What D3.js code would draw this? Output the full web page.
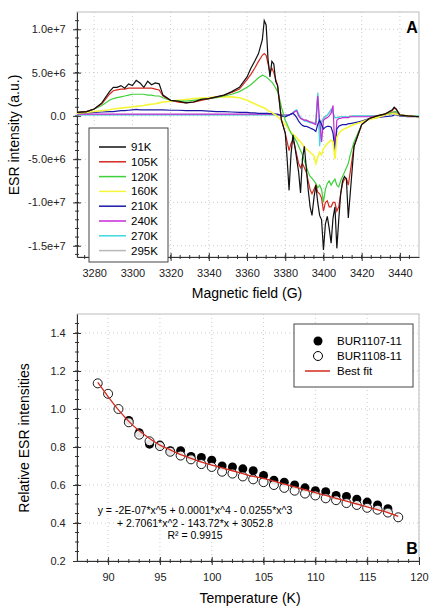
<!DOCTYPE html>
<html>
<head>
<meta charset="utf-8">
<script src="https://cdn.jsdelivr.net/npm/d3@7"></script>
<style>
body { margin: 0; background: #fff; font-family: "Liberation Sans", Arial, sans-serif; }
svg text { font-family: "Liberation Sans", Arial, sans-serif; }
.grid line { stroke: #ccc; stroke-dasharray: 1,3; }
.axis text { font-size: 11px; fill: #222; }
.axis path, .axis line { stroke: #333; }
</style>
</head>
<body>
<div id="chart"></div>
<script>
// panel A: ESR spectra, values in units of 1e6
const fields = [3271,3276,3280,3284,3288, 3290,3292,3294,3296,3298, 3300,3302,3304,3306,3308,
  3310,3312,3314,3316,3320, 3324,3328,3332,3336,3340, 3344,3348,3352,3356,3360,
  3362,3364,3366,3368,3369, 3370,3371,3372,3373,3374, 3375,3376,3377,3378,3380,
  3381,3382,3383,3384,3385, 3386,3387,3388,3389,3390, 3391,3392,3393,3394,3395,
  3396,3397,3398,3399,3400, 3401,3402,3403,3404,3405, 3406,3407,3408,3409,3410,
  3411,3412,3413,3414,3416, 3420,3424,3428,3432,3436, 3437,3438,3440,3444,3450];

const k91 = [0.4,0.5,0.8,1.5,2.8, 3.3,3.3,3.5,3.2,3.7, 3.5,4.1,3.8,3.3,4.0, 3.6,3.8,3.7,2.4,1.8,
  1.7,1.5,1.6,1.9,2.0, 2.2,2.4,2.8,3.3,4.5, 5.5,6.3,7.2,8.8,11.0, 10.5,6.5,4.5,6.3,6.0,
  4.0,3.5,1.5,-0.5,-2.0, -5.0,-8.6,-4.5,-2.2,-3.5, -5.0,-6.5,-8.9,-5.0,-3.5, -6.0,-8.5,-10.5,-11.5,-9.5,
  -8.0,-10.0,-11.5,-12.0,-15.5, -12.5,-11.6,-13.0,-14.7,-11.8, -10.5,-15.3,-12.0,-9.0,-7.5,
  -7.0,-7.3,-11.8,-9.0,-3.5, -1.0,-0.3,0.0,0.2,0.7, 1.0,0.8,0.1,0.0,-0.1];
const k105 = [0.4,0.5,0.8,1.4,2.5, 2.9,3.0,3.1,3.1,3.2, 3.2,3.2,3.2,3.2,3.2, 3.2,3.1,3.0,2.3,1.8,
  1.6,1.5,1.6,1.8,2.0, 2.2,2.4,2.7,3.1,4.2, 4.8,5.5,6.3,7.0,7.2, 7.0,6.0,5.0,5.5,5.0,
  4.2,3.5,1.5,-0.5,-2.0, -3.0,-4.0,-3.2,-2.8,-3.5, -4.5,-5.5,-6.0,-5.5,-6.0, -6.5,-7.5,-8.5,-9.0,-8.5,
  -8.0,-8.8,-9.0,-9.5,-11.0, -10.0,-9.8,-10.5,-10.5,-10.0, -10.0,-11.0,-10.5,-9.0,-7.8,
  -7.3,-7.2,-8.0,-6.5,-3.5, -1.0,-0.3,0.0,0.2,0.6, 0.9,0.8,0.1,0.0,-0.1];
const k120 = [0.4,0.5,0.8,1.2,1.8, 2.0,2.1,2.2,2.3,2.4, 2.5,2.5,2.5,2.5,2.4, 2.4,2.3,2.3,2.1,1.8,
  1.7,1.7,1.8,1.9,2.0, 2.1,2.3,2.5,2.8,3.3, 3.6,4.0,4.4,4.7,4.6, 4.5,4.3,4.1,3.9,3.6,
  3.2,2.8,2.0,1.0,-0.5, -1.0,-1.5,-2.0,-2.3,-2.6, -3.0,-3.5,-4.0,-4.5,-5.2, -5.8,-6.5,-7.0,-7.2,-7.5,
  -7.8,-8.3,-8.0,-8.5,-10.0, -8.5,-7.8,-7.5,-8.0,-7.6, -7.3,-8.0,-8.2,-7.5,-7.0,
  -6.5,-6.0,-5.5,-4.5,-3.0, -1.0,-0.3,0.0,0.2,0.4, 0.5,0.5,0.1,0.0,-0.1];
const k160 = [0.3,0.4,0.5,0.6,0.7, 0.8,0.85,0.9,0.95,1.0, 1.05,1.1,1.15,1.2,1.3, 1.35,1.4,1.5,1.6,1.7,
  1.8,1.9,2.0,2.05,2.1, 2.2,2.2,2.2,2.1,1.8, 1.6,1.4,1.2,1.0,0.9, 0.8,0.6,0.5,0.4,0.2,
  0.1,-0.1,-0.3,-0.5,-1.0, -1.3,-1.6,-1.9,-2.1,-2.3, -2.5,-2.8,-3.0,-3.3,-3.6, -3.8,-4.0,-4.2,-4.4,-4.6,
  -5.5,-4.8,-4.2,-4.5,-3.8, -3.5,-3.2,-3.0,-2.8,-3.0, -5.0,-2.5,-2.0,-1.8,-1.6,
  -1.5,-1.4,-1.3,-1.2,-1.0, -0.7,-0.4,-0.2,0.1,0.3, 0.3,0.2,0.1,0.0,-0.1];
const k210 = [0.3,0.35,0.4,0.45,0.5, 0.5,0.55,0.6,0.6,0.65, 0.7,0.75,0.7,0.7,0.7, 0.7,0.7,0.7,0.7,0.65,
  0.65,0.6,0.6,0.6,0.55, 0.5,0.5,0.45,0.4,0.4, 0.35,0.35,0.3,0.3,0.3, 0.3,0.3,0.25,0.25,0.2,
  0.2,0.2,0.1,0.0,-0.1, 0.0,0.1,0.2,0.3,0.1, -0.2,-0.6,-0.9,-1.1,-1.2, -1.2,-1.3,-1.4,-1.5,-1.6,
  -1.8,-1.0,-0.5,-1.0,-1.5, -1.3,-1.2,-1.2,-1.3,-2.0, -4.0,-1.5,-1.2,-1.1,-1.0,
  -1.0,-1.0,-0.9,-0.9,-0.8, -0.6,-0.3,-0.2,-0.1,0.0, 0.1,0.1,0.0,-0.1,-0.1];
const k240 = [0.2,0.2,0.2,0.2,0.2, 0.2,0.2,0.2,0.2,0.2, 0.2,0.2,0.2,0.2,0.2, 0.2,0.2,0.2,0.2,0.2,
  0.2,0.2,0.2,0.2,0.2, 0.2,0.2,0.2,0.2,0.2, 0.2,0.2,0.2,0.2,0.2, 0.2,0.2,0.2,0.2,0.2,
  0.15,0.15,0.1,0.1,0.1, 0.1,0.1,0.2,0.3,0.5, 0.6,0.0,-0.3,-0.4,-0.5, -0.5,-0.6,-0.7,-0.8,-0.9,
  -1.0,2.3,-0.5,-3.0,-0.5, -0.3,-0.2,0.0,0.3,1.2, -4.2,-0.5,-0.3,-0.3,-0.2,
  -0.2,-0.2,-0.2,-0.1,-0.1, -0.1,-0.1,0.0,0.1,0.3, 0.4,0.3,0.1,0.0,-0.1];
const k270 = [0.1,0.1,0.1,0.1,0.1, 0.1,0.1,0.1,0.1,0.1, 0.1,0.1,0.1,0.1,0.1, 0.1,0.1,0.1,0.1,0.1,
  0.1,0.1,0.1,0.1,0.1, 0.1,0.1,0.1,0.1,0.1, 0.1,0.1,0.1,0.1,0.1, 0.1,0.1,0.1,0.1,0.1,
  0.1,0.1,0.1,0.1,0.1, 0.1,0.1,0.2,0.4,0.6, 0.7,0.2,-0.2,-0.4,-0.6, -0.6,-0.7,-0.8,-0.8,-0.9,
  -0.8,2.6,-3.5,-0.8,-0.3, -0.1,0.1,0.4,0.8,0.4, -0.2,-0.2,-0.2,-0.1,-0.1,
  -0.1,-0.1,-0.1,-0.1,0.0, 0.0,0.0,0.0,0.1,0.3, 0.3,0.3,0.1,0.0,0.0];
const k295 = [0.15,0.15,0.15,0.15,0.15, 0.15,0.15,0.15,0.15,0.15, 0.15,0.15,0.15,0.15,0.15, 0.15,0.15,0.15,0.15,0.15,
  0.15,0.15,0.15,0.15,0.15, 0.15,0.15,0.15,0.15,0.15, 0.15,0.15,0.15,0.15,0.15, 0.15,0.15,0.15,0.15,0.15,
  0.1,0.1,0.1,0.1,0.1, 0.1,0.1,0.2,0.3,0.5, 0.6,0.2,-0.2,-0.3,-0.5, -0.5,-0.6,-0.7,-0.7,-0.8,
  -0.7,2.7,-2.5,-0.6,-0.2, 0.0,0.1,0.3,0.6,0.3, -0.2,-0.2,-0.1,-0.1,-0.1,
  -0.1,-0.1,-0.1,0.0,0.0, 0.0,0.0,0.0,0.1,0.2, 0.3,0.2,0.1,0.0,0.0];

const tempLabels = ["91K","105K","120K","160K","210K","240K","270K","295K"];
const tempColors = ["#111111","#d42a1e","#3ed13a","#f5f53a","#1a1aa8","#c62ad6","#3fd9de","#b8b8b8"];
const spectra = [k91,k105,k120,k160,k210,k240,k270,k295];

// panel B
const tempsOpen = d3.range(89, 119);
const openVals = [1.135,1.08,1.0,0.93,0.865,0.83,0.805,0.775,0.755,0.735,0.71,0.695,0.67,0.66,0.645,
  0.63,0.615,0.60,0.585,0.57,0.555,0.545,0.53,0.52,0.505,0.495,0.48,0.47,0.455,0.43];
const tempsFilled = d3.range(92, 118);
const filledVals = [0.94,0.875,0.815,0.81,0.78,0.78,0.75,0.745,0.73,0.70,0.695,0.685,0.675,0.65,0.625,
  0.615,0.60,0.585,0.57,0.565,0.545,0.54,0.525,0.51,0.495,0.475];
const fitVals = [1.14,1.065,0.995,0.935,0.885,0.845,0.81,0.785,0.76,0.74,0.72,0.705,0.69,0.675,0.66,
  0.645,0.635,0.62,0.605,0.59,0.575,0.56,0.545,0.53,0.515,0.50,0.485,0.47,0.455,0.435];
const eqLines = ["y = -2E-07*x^5 + 0.0001*x^4 - 0.0255*x^3", "+ 2.7061*x^2 - 143.72*x + 3052.8", "R² = 0.9915"];

const W = 448, H = 609;
const svg = d3.select("#chart").append("svg").attr("width", W).attr("height", H);

function frame(g, x, y, xt, yt, xMinor, yMinor, xFmt, yFmt) {
    let [x0, x1] = x.range(), [y1, y0] = y.range();
    g.append("g").attr("class", "grid").selectAll("line").data(xt).join("line")
        .attr("x1", d => x(d)).attr("x2", d => x(d)).attr("y1", y0).attr("y2", y1);
    g.append("g").attr("class", "grid").selectAll("line").data(yt).join("line")
        .attr("y1", d => y(d)).attr("y2", d => y(d)).attr("x1", x0).attr("x2", x1);
    g.append("rect").attr("x", x0).attr("y", y0).attr("width", x1 - x0).attr("height", y1 - y0)
        .attr("fill", "none").attr("stroke", "#bbb");
    let xa = g.append("g").attr("class", "axis").attr("transform", `translate(0,${y1})`)
        .call(d3.axisBottom(x).tickValues(xt).tickFormat(xFmt).tickSize(5).tickSizeOuter(0));
    xa.selectAll(".tick line").attr("y1", -4).attr("y2", 4);
    xa.selectAll("text").attr("dy", "1.1em");
    let xm = g.append("g").attr("transform", `translate(0,${y1})`);
    xm.selectAll("line").data(xMinor).join("line").attr("x1", d => x(d)).attr("x2", d => x(d))
        .attr("y1", -2).attr("y2", 2).attr("stroke", "#333");
    let ya = g.append("g").attr("class", "axis").attr("transform", `translate(${x0},0)`)
        .call(d3.axisLeft(y).tickValues(yt).tickFormat(yFmt).tickSize(5).tickSizeOuter(0));
    ya.selectAll(".tick line").attr("x1", -4).attr("x2", 4);
    ya.selectAll("text").attr("dx", "-0.3em");
    let ym = g.append("g").attr("transform", `translate(${x0},0)`);
    ym.selectAll("line").data(yMinor).join("line").attr("y1", d => y(d)).attr("y2", d => y(d))
        .attr("x1", -2).attr("x2", 2).attr("stroke", "#333");
}

// ---- panel A
const gA = svg.append("g");
const xA = d3.scaleLinear().domain([3271, 3450]).range([77, 419]);
const yA = d3.scaleLinear().domain([-16.3, 12]).range([257, 12]);
const fmtA = d => d === 0 ? "0.0" : (d < 0 ? "-" : "") + (Math.abs(d) >= 10 ? (Math.abs(d) / 10).toFixed(1) + "e+7" : Math.abs(d).toFixed(1) + "e+6");
frame(gA, xA, yA, d3.range(3280, 3441, 20), [-15, -10, -5, 0, 5, 10],
    d3.range(3275, 3450, 5), d3.range(-16, 12, 1), d3.format("d"), fmtA);

const lineA = d3.line().x((d, i) => xA(fields[i])).y(d => yA(d));
[7, 6, 5, 4, 3, 2, 1, 0].forEach(i => {
    gA.append("path").datum(spectra[i]).attr("d", lineA).attr("fill", "none")
        .attr("stroke", tempColors[i]).attr("stroke-width", i === 3 ? 1.6 : 1.2);
});

const legA = gA.append("g");
legA.append("rect").attr("x", 89).attr("y", 128).attr("width", 79).attr("height", 134)
    .attr("fill", "#fff").attr("stroke", "#444");
tempLabels.forEach((t, i) => {
    let yy = 147 + i * 14.8;
    legA.append("line").attr("x1", 99).attr("x2", 126).attr("y1", yy).attr("y2", yy)
        .attr("stroke", tempColors[i]).attr("stroke-width", 1.5);
    legA.append("text").attr("x", 131).attr("y", yy + 4).text(t).style("font-size", "11.5px");
});
gA.append("text").attr("x", 412).attr("y", 33).attr("text-anchor", "middle").text("A")
    .style("font-size", "16px").style("font-weight", "bold");
gA.append("text").attr("x", 247).attr("y", 298).attr("text-anchor", "middle")
    .text("Magnetic field (G)").style("font-size", "14px");
gA.append("text").attr("transform", "translate(19,135) rotate(-90)").attr("text-anchor", "middle")
    .text("ESR intensity (a.u.)").style("font-size", "14px");

// ---- panel B
const gB = svg.append("g");
const xB = d3.scaleLinear().domain([87, 120]).range([77, 419]);
const yB = d3.scaleLinear().domain([0.2, 1.5]).range([561, 314]);
frame(gB, xB, yB, d3.range(90, 121, 5), [0.2, 0.4, 0.6, 0.8, 1.0, 1.2, 1.4],
    d3.range(88, 120, 1), d3.range(0.25, 1.5, 0.05), d3.format("d"), d3.format(".1f"));

gB.selectAll(".filled").data(filledVals).join("circle").attr("class", "filled")
    .attr("cx", (d, i) => xB(tempsFilled[i])).attr("cy", d => yB(d)).attr("r", 4.5).attr("fill", "#000");
gB.selectAll(".open").data(openVals).join("circle").attr("class", "open")
    .attr("cx", (d, i) => xB(tempsOpen[i])).attr("cy", d => yB(d)).attr("r", 4.5)
    .attr("fill", "#fff").attr("fill-opacity", 0.9).attr("stroke", "#000").attr("stroke-width", 0.9);
gB.append("path").datum(fitVals)
    .attr("d", d3.line().x((d, i) => xB(tempsOpen[i])).y(d => yB(d)).curve(d3.curveMonotoneX))
    .attr("fill", "none").attr("stroke", "#d42a1e").attr("stroke-width", 1.3);

eqLines.forEach((t, i) => {
    gB.append("text").attr("x", 195).attr("y", 514 + i * 12.5).attr("text-anchor", "middle")
        .text(t).style("font-size", "10.5px");
});

const legB = gB.append("g");
legB.append("rect").attr("x", 294).attr("y", 324).attr("width", 119).attr("height", 63)
    .attr("fill", "#fff").attr("stroke", "#444");
legB.append("circle").attr("cx", 318).attr("cy", 341).attr("r", 4.5).attr("fill", "#000");
legB.append("circle").attr("cx", 318).attr("cy", 356).attr("r", 4.5).attr("fill", "#fff").attr("stroke", "#000");
legB.append("line").attr("x1", 305).attr("x2", 330).attr("y1", 371).attr("y2", 371)
    .attr("stroke", "#d42a1e").attr("stroke-width", 1.5);
["BUR1107-11", "BUR1108-11", "Best fit"].forEach((t, i) => {
    legB.append("text").attr("x", 337).attr("y", 345 + i * 15).text(t).style("font-size", "11.5px");
});
gB.append("text").attr("x", 412).attr("y", 554).attr("text-anchor", "middle").text("B")
    .style("font-size", "16px").style("font-weight", "bold");
gB.append("text").attr("x", 250).attr("y", 603).attr("text-anchor", "middle")
    .text("Temperature (K)").style("font-size", "14px");
gB.append("text").attr("transform", "translate(29,438) rotate(-90)").attr("text-anchor", "middle")
    .text("Relative ESR intensities").style("font-size", "14px");
</script>
</body>
</html>
